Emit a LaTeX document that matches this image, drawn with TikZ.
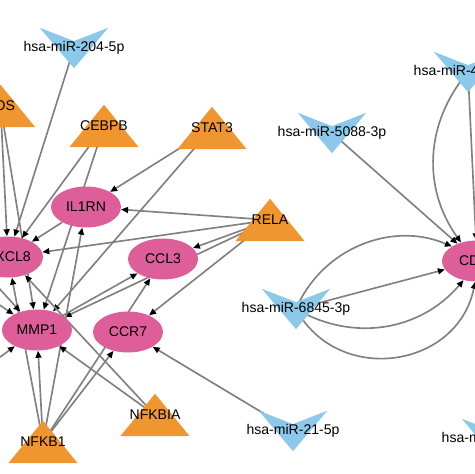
\documentclass[tikz,border=0pt]{standalone}
\usepackage{fontspec}
\setmainfont{Liberation Sans}
\usetikzlibrary{arrows.meta, shapes.geometric}
\pgfdeclarelayer{edges}
\pgfdeclarelayer{shapes}
\pgfsetlayers{edges,shapes,main}
\definecolor{genepink}{RGB}{222,94,154}
\definecolor{tforange}{RGB}{240,150,48}
\definecolor{mirblue}{RGB}{140,200,234}
\definecolor{edgegray}{RGB}{128,128,128}

\begin{document}
\begin{tikzpicture}[x=0.03cm, y=-0.03cm, font=\fontsize{12}{14}\selectfont,
    gene/.style={ellipse, fill=genepink, minimum width=2.1cm, minimum height=1.23cm, inner sep=0pt},
    tf/.style={rectangle, minimum width=2.07cm, minimum height=1.26cm, inner sep=0pt, label={center:#1}},
    mir/.style={rectangle, minimum width=2.04cm, minimum height=1.2cm, inner sep=0pt, label={center:#1}},
    edge/.style={draw=edgegray, line width=1.4pt, -{Triangle[length=6pt,width=5pt,black]}},
]
\useasboundingbox (0,0) rectangle (474,474);

\node[gene] (il1rn) at (86,207)  {IL1RN};
\node[gene] (cxcl8) at (8,257)   {CXCL8};
\node[gene] (ccl3)  at (163,259) {CCL3};
\node[gene] (mmp1)  at (37,330)  {MMP1};
\node[gene] (ccr7)  at (128,332) {CCR7};
\node[gene] (cd44)  at (477,261) {CD44};

\node[tf=FOS]    (fos)    at (0.5,106) {};
\node[tf=CEBPB]  (cebpb)  at (104,126) {};
\node[tf=STAT3]  (stat3)  at (212,128) {};
\node[tf=RELA]   (rela)   at (270,220) {};
\node[tf=NFKBIA] (nfkbia) at (155,415) {};
\node[tf=NFKB1]  (nfkb1)  at (43,442)  {};

\node[mir=hsa-miR-204-5p]  (m204)  at (74,48)   {};
\node[mir=hsa-miR-5088-3p] (m5088) at (332,133) {};
\node[mir=hsa-miR-4707-3p] (m4707) at (468,72)  {};
\node[mir=hsa-miR-6845-3p] (m6845) at (296,309) {};
\node[mir=hsa-miR-21-5p]   (m21)   at (293,431) {};
\node[mir=hsa-miR-3127-5p] (m3127) at (496,439) {};

\coordinate (offa) at (-83,198);
\coordinate (offb) at (-71,258);
\coordinate (offc) at (-60,401);

\begin{pgfonlayer}{shapes}
\foreach \nd in {fos,cebpb,stat3,rela,nfkbia,nfkb1}
  \fill[tforange] (\nd.south west) -- (\nd.north) -- (\nd.south east) -- cycle;
\foreach \nd in {m204,m5088,m4707,m6845,m21,m3127}
  \fill[mirblue] (\nd.north west) -- ([yshift=-0.4cm]\nd.north) -- (\nd.north east) -- (\nd.south) -- cycle;
\end{pgfonlayer}

\begin{pgfonlayer}{edges}
\draw[edge] (fos.center) -- (cxcl8);
\draw[edge] (fos.center) -- (mmp1);
\draw[edge] (m204.center) -- (cxcl8);
\draw[edge] (cebpb.center) -- (cxcl8);
\draw[edge] (cebpb.center) -- (mmp1);
\draw[edge] (stat3.center) -- (il1rn);
\draw[edge] (stat3.center) -- (mmp1);
\draw[edge] (rela.center) -- (il1rn);
\draw[edge] (rela.center) -- (cxcl8);
\draw[edge] (rela.center) -- (ccl3);
\draw[edge] (rela.center) -- (mmp1);
\draw[edge] (rela.center) -- (ccr7);
\draw[edge] (il1rn) -- (cxcl8);
\draw[edge] (mmp1) -- (ccl3);
\draw[edge] (nfkb1.center) -- (mmp1);
\draw[edge] (nfkb1.center) -- (cxcl8);
\draw[edge] (nfkb1.center) -- (il1rn);
\draw[edge] (nfkb1.center) -- (ccr7);
\draw[edge] (nfkb1.center) -- (ccl3);
\draw[edge] (nfkbia.center) -- (cxcl8);
\draw[edge] (nfkbia.center) -- (mmp1);
\draw[edge] (offa) -- (mmp1);
\draw[edge] (offb) -- (mmp1);
\draw[edge] (offc) -- (mmp1);
\draw[edge] (m21.center) -- (ccr7);
\draw[edge] (m5088.center) -- (cd44);
\draw[edge] (m4707.center) -- (cd44);
\draw[edge] (m4707.center) to[bend right=38] (cd44);
\draw[edge] (m6845.center) -- (cd44);
\draw[edge] (m6845.center) to[bend left=45] (cd44);
\draw[edge] (m6845.center) to[bend right=40] (cd44);
\draw[edge] (m6845.center) to[bend right=70, looseness=1.25] (cd44);
\end{pgfonlayer}
\end{tikzpicture}
\end{document}
